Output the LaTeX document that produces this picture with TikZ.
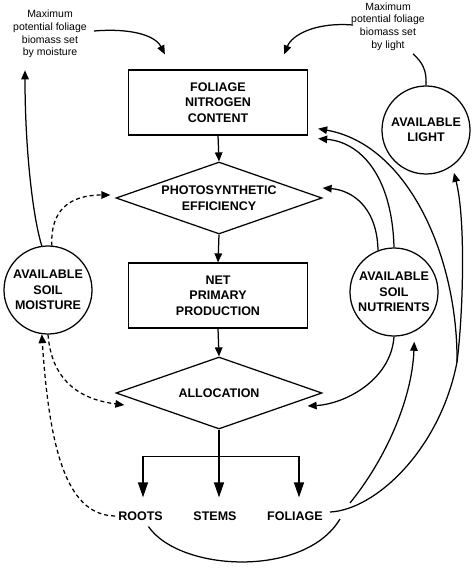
\documentclass[tikz,border=0pt]{standalone}
\usepackage{fontspec}
\setmainfont{Liberation Sans}
\usetikzlibrary{positioning, arrows.meta, shapes.geometric, calc}

\newcommand{\labelfont}{\fontsize{12.5}{15.5}\selectfont\bfseries}
\newcommand{\notefont}{\fontsize{10.5}{12.8}\selectfont}

\tikzset{
  box/.style={draw, line width=1.25pt, minimum width=179pt, minimum height=65pt,
              align=center, font=\labelfont},
  decision/.style={draw, diamond, aspect=2.8, inner sep=0pt, line width=1.25pt,
                   minimum width=206pt, minimum height=72pt, align=center, font=\labelfont},
  pool/.style={draw, circle, inner sep=0pt, minimum size=88pt, line width=1.25pt,
               align=center, font=\labelfont},
  part/.style={inner sep=1pt, font=\labelfont},
  note/.style={inner sep=0pt, align=center, font=\notefont},
  line/.style={line width=1.25pt},
  arr/.style={line, -{Triangle[length=9pt,width=7.5pt]}},
  bigarr/.style={line, -{Triangle[length=15pt,width=10pt]}},
  dasharr/.style={arr, dash pattern=on 4pt off 3pt},
}

\begin{document}
\begin{tikzpicture}[x=1pt, y=-1pt]
  \useasboundingbox (0,0) rectangle (474,569);

  % central column
  \node[box] (fnc) at (218,102.5) {FOLIAGE\\NITROGEN\\CONTENT};
  \node[decision] (pe) at (219,198) {PHOTOSYNTHETIC\\EFFICIENCY};
  \node[box] (npp) at (218,295.5) {NET\\PRIMARY\\PRODUCTION};
  \node[decision] (alloc) at (219,393) {ALLOCATION};

  % pools
  \node[pool] (moist) at (48,290) {AVAILABLE\\SOIL\\MOISTURE};
  \node[pool] (nut) at (394,292) {AVAILABLE\\SOIL\\NUTRIENTS};
  \node[pool] (light) at (426,130) {AVAILABLE\\LIGHT};

  % notes
  \node[note] (moistnote) at (50,34) {Maximum\\potential foliage\\biomass set\\by moisture};
  \node[note] (lightnote) at (388,26.5) {Maximum\\potential foliage\\biomass set\\by light};

  % plant parts
  \node[part] (roots) at (140.5,516) {ROOTS};
  \node[part] (stems) at (215,516) {STEMS};
  \node[part] (foliage) at (295,516) {FOLIAGE};

  \draw[arr] (fnc.south) -- (pe.north);
  \draw[arr] (pe.south) -- (npp.north);
  \draw[arr] (npp.south) -- (alloc.north);

  \coordinate (split) at ([yshift=-27pt]alloc.south);
  \coordinate (stemsin) at ([yshift=13pt]stems.north);
  \draw[line] (alloc.south) -- (split);
  \draw[bigarr] (split) -| ([xshift=2.5pt,yshift=13pt]roots.north);
  \draw[bigarr] (split) -- (split |- stemsin);
  \draw[bigarr] (split) -| ([xshift=4pt,yshift=13pt]foliage.north);

  % notes to foliage nitrogen
  \draw[arr] ([xshift=7pt,yshift=3pt]moistnote.east) .. controls (130,28) and (155,35)
    .. ([xshift=37pt,yshift=15pt]fnc.north west);
  \draw[arr] ([xshift=2pt,yshift=1.5pt]lightnote.west) .. controls (315,22) and (292,35)
    .. ([xshift=-24pt,yshift=15pt]fnc.north east);
  \draw[line] (light.north) .. controls (427,70) and (422,62)
    .. ([xshift=25pt,yshift=-3pt]lightnote.south);

  % soil moisture
  \draw[arr] (moist.98) .. controls (33,218) and (25,150)
    .. ([xshift=-25pt,yshift=-12pt]moistnote.south);
  \draw[dasharr] (moist.85) .. controls (50,210) and (70,195)
    .. ([xshift=-5pt,yshift=3pt]pe.west);
  \draw[dasharr] (moist.south) .. controls (52,385) and (85,400)
    .. ([xshift=9pt,yshift=-12pt]alloc.west);
  \draw[dasharr] ([xshift=-2pt]roots.west) .. controls (70,515) and (50,460) .. (moist.-98);

  % soil nutrients
  \draw[arr] (nut.111) .. controls (377,205) and (350,190) .. ([yshift=10pt]pe.east);
  \draw[arr] (nut.north) .. controls (392,175) and (360,142)
    .. ([xshift=10pt,yshift=-3pt]fnc.south east);
  \draw[arr] (nut.south) .. controls (391,380) and (345,404)
    .. ([xshift=-15pt,yshift=-13pt]alloc.east);

  % roots and foliage feedbacks
  \draw[line] ([xshift=8pt,yshift=-5pt]roots.south) .. controls (180,572) and (305,578)
    .. ([xshift=16pt,yshift=-3pt]foliage.east);
  \draw[arr] ([xshift=26pt,yshift=13pt]foliage.east) .. controls (385,460) and (412,400)
    .. ([yshift=-10pt]nut.-63);
  \coordinate (fork) at (457,362);
  \draw[line] ([xshift=6pt,yshift=4pt]foliage.east) .. controls (375,510) and (440,450) .. (fork);
  \draw[arr] (fork) .. controls (458,260) and (410,145) .. ([xshift=10pt,yshift=7pt]fnc.south east);
  \draw[arr, shorten >=7pt] (fork) .. controls (463,315) and (466,220) .. (light.-54);
\end{tikzpicture}
\end{document}
